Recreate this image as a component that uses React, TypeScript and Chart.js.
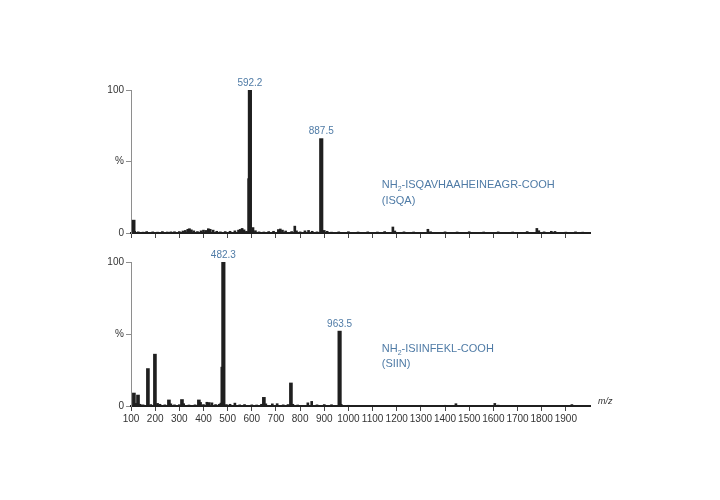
import React, { useEffect, useRef } from 'react';
import { Chart, registerables } from 'chart.js';

Chart.register(...registerables);

const FONT = '"Liberation Sans", Arial, Helvetica, sans-serif';
const INK = '#1f1f1f';
const BLUE = '#4f7ba6';
const AXIS_GRAY = '#8e8e8e';
const TEXT = '#333333';

// ---- axis ticks ----
const xTickValues = [100, 200, 300, 400, 500, 600, 700, 800, 900, 1000, 1100, 1200, 1300, 1400, 1500, 1600, 1700, 1800, 1900];
const yTickValues = [0, 50, 100];
const yTickLabels = ['0', '%', '100'];
const xAxisTitle = 'm/z';

// ---- ISQA spectrum (top) ----
const isqaSequence = 'ISQAVHAAHEINEAGR';
const isqaShort = '(ISQA)';
const isqaMajorMz = [592.2, 887.5];
const isqaMajorInt = [100, 66];
const isqaMajorLabels = ['592.2', '887.5'];
const isqaMinorMz = [111, 589];
const isqaMinorInt = [9, 38];
const isqaNoiseMz = [115, 130, 150, 165, 190, 210, 230, 250, 265, 280, 300, 315, 325, 335, 342, 350, 360, 375, 390, 400, 410, 420, 428, 440, 455, 470, 490, 510, 530, 545, 552, 560, 568, 578, 605, 615, 630, 650, 670, 690, 710, 718, 727, 740, 765, 778, 785, 800, 820, 835, 850, 870, 900, 912, 930, 960, 1000, 1040, 1080, 1120, 1150, 1184, 1192, 1230, 1270, 1329, 1340, 1400, 1450, 1500, 1560, 1620, 1680, 1740, 1780, 1788, 1810, 1840, 1855, 1900, 1940, 1970];
const isqaNoiseInt = [1.2, 0.8, 0.6, 1, 0.8, 0.6, 1, 0.7, 0.8, 0.9, 1.0, 1.4, 1.8, 2.6, 3.0, 2.2, 1.5, 1.0, 1.5, 2.0, 1.8, 3.0, 2.6, 2.0, 1.2, 0.8, 1.0, 1.2, 1.5, 2.0, 2.5, 3.2, 2.2, 1.2, 3.8, 1.6, 0.8, 0.7, 1, 1.2, 2.4, 2.8, 2.0, 1.4, 1.0, 4.8, 1.5, 0.8, 1.5, 1.8, 1.2, 0.8, 1.8, 1.2, 0.6, 0.8, 0.9, 0.7, 0.8, 0.7, 1.0, 4.2, 1.4, 0.8, 0.7, 2.6, 0.9, 0.8, 0.7, 0.9, 0.7, 0.8, 0.7, 1.0, 3.2, 1.6, 0.8, 1.2, 1.1, 0.6, 0.8, 0.6];

// ---- SIIN spectrum (bottom) ----
const siinSequence = 'ISIINFEKL';
const siinShort = '(SIIN)';
const siinMajorMz = [482.3, 963.5];
const siinMajorInt = [100, 52];
const siinMajorLabels = ['482.3', '963.5'];
const siinMinorMz = [112, 129, 170, 199, 478, 762, 650, 257, 311, 381];
const siinMinorInt = [9, 7.6, 26, 36, 27, 16, 6, 4.2, 4.5, 4.2];
const siinNoiseMz = [120, 138, 150, 182, 210, 220, 240, 265, 280, 300, 318, 340, 365, 388, 400, 414, 424, 435, 450, 465, 472, 495, 510, 530, 550, 570, 600, 620, 640, 658, 685, 705, 730, 750, 770, 790, 832, 848, 870, 900, 930, 970, 1000, 1100, 1200, 1300, 1400, 1445, 1500, 1606, 1620, 1700, 1800, 1925];
const siinNoiseInt = [1.8, 1.2, 0.8, 1.0, 1.8, 1.2, 0.8, 1.5, 0.8, 0.9, 1.6, 0.7, 0.8, 2.5, 1.0, 2.6, 2.4, 2.2, 1.0, 1.2, 2.0, 1.0, 1.2, 2.0, 0.8, 1.0, 0.8, 0.7, 1.2, 1.5, 1.5, 1.6, 0.8, 1.0, 1.2, 0.7, 2.2, 3.2, 0.8, 1.0, 0.9, 1.2, 0.5, 0.4, 0.4, 0.5, 0.5, 1.6, 0.4, 1.8, 0.6, 0.4, 0.4, 1.0];

const zip = (xs: number[], ys: number[]) => xs.map((x, i) => ({ x, y: ys[i] }));

interface PanelSpec {
  majorMz: number[];
  majorInt: number[];
  majorLabels: string[];
  minorMz: number[];
  minorInt: number[];
  noiseMz: number[];
  noiseInt: number[];
  sequence: string;
  short: string;
  showXLabels: boolean;
  showTitle: boolean;
  padTop: number;
  xHeight: number;
  noteAt: { mz: number; int1: number; int2: number };
}

function makeTextPlugin(spec: PanelSpec) {
  return {
    id: 'textOverlay',
    afterDraw(chart: any) {
      const { ctx, scales, chartArea } = chart;
      const xs = scales.x;
      const ys = scales.y;
      ctx.save();
      // peak labels
      ctx.font = `10px ${FONT}`;
      ctx.fillStyle = BLUE;
      ctx.textAlign = 'center';
      ctx.textBaseline = 'bottom';
      spec.majorMz.forEach((mz, i) => {
        const px = xs.getPixelForValue(mz);
        const py = ys.getPixelForValue(spec.majorInt[i]);
        ctx.fillText(spec.majorLabels[i], px, py - 2);
      });
      // sequence annotation
      const ax = xs.getPixelForValue(spec.noteAt.mz);
      const ay1 = ys.getPixelForValue(spec.noteAt.int1);
      const ay2 = ys.getPixelForValue(spec.noteAt.int2);
      ctx.textAlign = 'left';
      ctx.textBaseline = 'middle';
      ctx.font = `11px ${FONT}`;
      let cx = ax;
      ctx.fillText('NH', cx, ay1);
      cx += ctx.measureText('NH').width;
      ctx.font = `7px ${FONT}`;
      ctx.fillText('2', cx, ay1 + 4);
      cx += ctx.measureText('2').width;
      ctx.font = `11px ${FONT}`;
      ctx.fillText(`-${spec.sequence}-COOH`, cx, ay1);
      ctx.fillText(spec.short, ax, ay2);
      // axis title
      if (spec.showTitle) {
        ctx.font = `italic 9px ${FONT}`;
        ctx.fillStyle = TEXT;
        ctx.textAlign = 'left';
        ctx.textBaseline = 'middle';
        ctx.fillText(xAxisTitle, chartArea.right + 8, chartArea.bottom - 5);
      }
      ctx.restore();
    },
  };
}

function makeConfig(spec: PanelSpec): any {
  return {
    type: 'bar',
    data: {
      datasets: [
        { data: zip(spec.noiseMz, spec.noiseInt), backgroundColor: INK, barThickness: 2 },
        { data: zip(spec.minorMz, spec.minorInt), backgroundColor: INK, barThickness: 3 },
        { data: zip(spec.majorMz, spec.majorInt), backgroundColor: INK, barThickness: 3.5 },
      ],
    },
    options: {
      animation: false,
      responsive: false,
      maintainAspectRatio: false,
      events: [],
      datasets: { bar: { grouped: false, categoryPercentage: 1, barPercentage: 1 } },
      layout: { padding: { top: spec.padTop, left: 0, right: 130, bottom: 0 } },
      plugins: { legend: { display: false }, tooltip: { enabled: false }, title: { display: false } },
      scales: {
        x: {
          type: 'linear',
          min: 100,
          max: 2000,
          offset: false,
          afterBuildTicks: (s: any) => {
            s.ticks = xTickValues.map((v) => ({ value: v }));
          },
          afterFit: (s: any) => {
            s.height = spec.xHeight;
          },
          ticks: {
            display: spec.showXLabels,
            autoSkip: false,
            maxRotation: 0,
            padding: 2,
            color: TEXT,
            font: { family: FONT, size: 10 },
            callback: (v: any) => String(v),
          },
          grid: {
            display: true,
            offset: false,
            drawOnChartArea: false,
            drawTicks: true,
            tickLength: 5,
            color: '#444444',
            lineWidth: 1,
          },
          border: { display: true, color: INK, width: 2 },
        },
        y: {
          type: 'linear',
          min: 0,
          max: 100,
          afterBuildTicks: (s: any) => {
            s.ticks = yTickValues.map((v) => ({ value: v }));
          },
          afterFit: (s: any) => {
            s.width = 131;
          },
          ticks: {
            padding: 2,
            color: TEXT,
            font: { family: FONT, size: 10 },
            callback: (v: any) => {
              const i = yTickValues.indexOf(Number(v));
              return i >= 0 ? yTickLabels[i] : '';
            },
          },
          grid: {
            display: true,
            drawOnChartArea: false,
            drawTicks: true,
            tickLength: 5,
            color: AXIS_GRAY,
            lineWidth: 1,
          },
          border: { display: true, color: AXIS_GRAY, width: 1 },
        },
      },
    },
    plugins: [makeTextPlugin(spec)],
  };
}

const topSpec: PanelSpec = {
  majorMz: isqaMajorMz,
  majorInt: isqaMajorInt,
  majorLabels: isqaMajorLabels,
  minorMz: isqaMinorMz,
  minorInt: isqaMinorInt,
  noiseMz: isqaNoiseMz,
  noiseInt: isqaNoiseInt,
  sequence: isqaSequence,
  short: isqaShort,
  showXLabels: false,
  showTitle: false,
  padTop: 90,
  xHeight: 17,
  noteAt: { mz: 1138, int1: 33.5, int2: 22.5 },
};

const bottomSpec: PanelSpec = {
  majorMz: siinMajorMz,
  majorInt: siinMajorInt,
  majorLabels: siinMajorLabels,
  minorMz: siinMinorMz,
  minorInt: siinMinorInt,
  noiseMz: siinNoiseMz,
  noiseInt: siinNoiseInt,
  sequence: siinSequence,
  short: siinShort,
  showXLabels: true,
  showTitle: true,
  padTop: 12,
  xHeight: 94,
  noteAt: { mz: 1138, int1: 39.5, int2: 29 },
};

function Panel({ spec, top }: { spec: PanelSpec; top: number }) {
  const ref = useRef<HTMLCanvasElement | null>(null);
  useEffect(() => {
    if (!ref.current) return;
    const chart = new Chart(ref.current, makeConfig(spec));
    return () => chart.destroy();
  }, [spec]);
  return (
    <canvas
      ref={ref}
      width={720}
      height={250}
      style={{ position: 'absolute', left: 0, top, width: 720, height: 250 }}
    />
  );
}

export default function App() {
  return (
    <div style={{ position: 'fixed', left: 0, top: 0, width: 720, height: 500, background: '#ffffff', overflow: 'hidden' }}>
      <Panel spec={topSpec} top={0} />
      <Panel spec={bottomSpec} top={250} />
    </div>
  );
}
